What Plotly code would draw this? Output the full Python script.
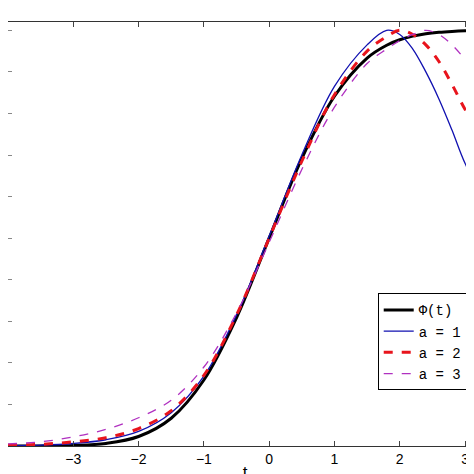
import plotly.graph_objects as go

t = [-4, -3.5, -3, -2.5, -2, -1.5, -1, -0.5, 0, 0.5, 1, 1.5, 1.8, 2, 2.2, 2.4, 2.6, 2.8, 3, 3.31]
phi = [0.00003, 0.0002, 0.0013, 0.0062, 0.0228, 0.0668, 0.1587, 0.3085, 0.5, 0.6915,
       0.8413, 0.9332, 0.9641, 0.9772, 0.9861, 0.9918, 0.9953, 0.9974, 0.9987, 0.9995]
a1 = [0.001, 0.002, 0.006, 0.015, 0.035, 0.08, 0.168, 0.315, 0.505, 0.70,
      0.865, 0.965, 1.0, 0.99, 0.955, 0.90, 0.835, 0.76, 0.68, 0.59]
a2 = [0.002, 0.004, 0.01, 0.02, 0.042, 0.085, 0.17, 0.315, 0.5, 0.685,
      0.845, 0.95, 0.985, 1.0, 0.99, 0.965, 0.925, 0.87, 0.81, 0.73]
a3 = [0.005, 0.01, 0.022, 0.04, 0.068, 0.11, 0.19, 0.32, 0.49, 0.665,
      0.815, 0.92, 0.955, 0.975, 0.99, 1.0, 0.99, 0.965, 0.93, 0.87]

fig = go.Figure()
fig.add_trace(go.Scatter(x=t, y=phi, mode='lines', name='Φ(t)', line=dict(color='black', width=3, shape='spline')))
fig.add_trace(go.Scatter(x=t, y=a1, mode='lines', name='a = 1', line=dict(color='#1010b0', width=1.3, shape='spline')))
fig.add_trace(go.Scatter(x=t, y=a2, mode='lines', name='a = 2', line=dict(color='#e8141c', width=3, dash='dash', shape='spline')))
fig.add_trace(go.Scatter(x=t, y=a3, mode='lines', name='a = 3', line=dict(color='#b030c0', width=1.3, dash='dash', shape='spline')))

fig.update_layout(
    width=474, height=474, plot_bgcolor='white', paper_bgcolor='white',
    margin=dict(l=0, r=0, t=14, b=36),
    font=dict(family='Liberation Sans', size=14, color='black'),
    legend=dict(x=0.78, y=0.36, xanchor='left', yanchor='top', bgcolor='white',
                bordercolor='black', borderwidth=1,
                font=dict(family='Liberation Mono', size=14)),
    xaxis=dict(range=[-4.0, 3.26], tickvals=[-3, -2, -1, 0, 1, 2, 3],
               ticktext=['−3', '−2', '−1', '0', '1', '2', '3'],
               ticks='inside', ticklen=5, showgrid=False, zeroline=False,
               showline=True, linecolor='#333', mirror='ticks',
               title=dict(text='t', standoff=0)),
    yaxis=dict(range=[0, 1.02], dtick=0.1, ticks='inside', ticklen=4,
               showticklabels=False, showgrid=False, zeroline=False,
               tickcolor='#888'),
)
fig.write_html("out.html")
